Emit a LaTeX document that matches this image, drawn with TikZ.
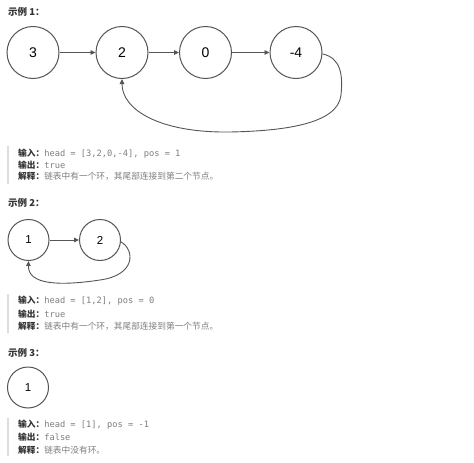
\documentclass[tikz,border=0pt]{standalone}
\usepackage{fontspec}
\setmainfont{Noto Sans CJK SC}
\setmonofont{DejaVu Sans Mono}
\newfontfamily\numfont{Liberation Sans}
\usetikzlibrary{arrows.meta}
\definecolor{ringc}{RGB}{85,85,85}
\definecolor{labelc}{RGB}{51,51,51}
\definecolor{valc}{RGB}{125,125,125}
\definecolor{barc}{RGB}{221,221,221}
\tikzset{
  listnode/.style={circle, draw=ringc, line width=1pt, minimum size=52pt, inner sep=0pt, font=\numfont\fontsize{14pt}{16pt}\selectfont},
  smallnode/.style={listnode, minimum size=41pt, font=\numfont\fontsize{11.5pt}{13pt}\selectfont},
  link/.style={draw=ringc, line width=0.9pt, -{Triangle[length=5pt,width=4.5pt]}},
  title/.style={anchor=west, inner sep=0pt, text=labelc, font=\bfseries\fontsize{9.5pt}{11pt}\selectfont},
  infoline/.style={anchor=west, inner sep=0pt, text=valc, font=\fontsize{8.7pt}{10pt}\selectfont},
  quotebar/.style={draw=barc, line width=1.5pt}
}
\newcommand{\lbl}[1]{{\bfseries\color{labelc}#1}}
\begin{document}
\begin{tikzpicture}[x=1pt,y=-1pt]
	\useasboundingbox (0,0) rectangle (474,463);
	% example 1
	\node[title] (t1) at (8,11.5) {示例 1：};
	\node[listnode] (n3) at (33,52.5) {3};
	\node[listnode] (n2) at (122,52.5) {2};
	\node[listnode] (n0) at (205.5,52.5) {0};
	\node[listnode] (nm4) at (296,52.5) {-4};
	\draw[link] (n3) -- (n2);
	\draw[link] (n2) -- (n0);
	\draw[link] (n0) -- (nm4);
	\draw[link] (nm4.-3) .. controls (341,58) and (343,75) .. (341,95) .. controls (338,125) and (280,131) .. (230,132) .. controls (160,133) and (122,110) .. (n2.south);
	\draw[quotebar] (8,146) -- (8,184);
	\node[infoline] (in1) at (18,153.3) {\lbl{输入：}\texttt{head = [3,2,0,-4], pos = 1}};
	\node[infoline] (out1) at (18,165) {\lbl{输出：}\texttt{true}};
	\node[infoline] (ex1) at (18,176.7) {\lbl{解释：}链表中有一个环，其尾部连接到第二个节点。};
	% example 2
	\node[title] (t2) at (8,202.5) {示例 2：};
	\node[smallnode] (m1) at (28.5,240) {1};
	\node[smallnode] (m2) at (100,240) {2};
	\draw[link] (m1) -- (m2);
	\draw[link] (m2.-5) .. controls (135,250) and (136,275) .. (100,280) .. controls (60,286) and (28,285) .. (m1.south);
	\draw[quotebar] (8,294) -- (8,333);
	\node[infoline] (in2) at (18,300.7) {\lbl{输入：}\texttt{head = [1,2], pos = 0}};
	\node[infoline] (out2) at (18,314) {\lbl{输出：}\texttt{true}};
	\node[infoline] (ex2) at (18,326.7) {\lbl{解释：}链表中有一个环，其尾部连接到第一个节点。};
	% example 3
	\node[title] (t3) at (8,352.5) {示例 3：};
	\node[smallnode] (k1) at (28,387.5) {1};
	\draw[quotebar] (8,418) -- (8,456);
	\node[infoline] (in3) at (18,425) {\lbl{输入：}\texttt{head = [1], pos = -1}};
	\node[infoline] (out3) at (18,437.3) {\lbl{输出：}\texttt{false}};
	\node[infoline] (ex3) at (18,450) {\lbl{解释：}链表中没有环。};
\end{tikzpicture}
\end{document}
